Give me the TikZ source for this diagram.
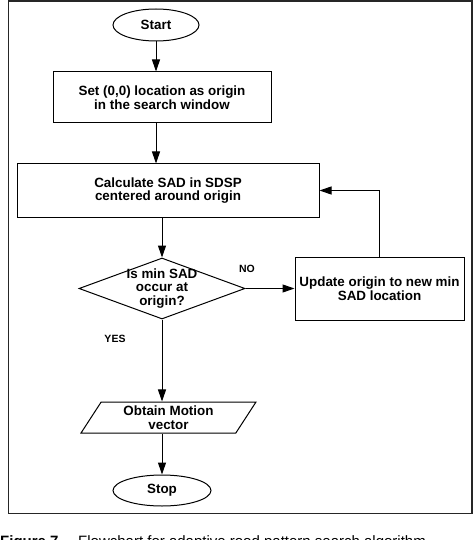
\documentclass[tikz,border=0pt]{standalone}
\usepackage{fontspec}
\setmainfont{Liberation Sans}
\usetikzlibrary{shapes.geometric,arrows.meta}

\begin{document}
\begin{tikzpicture}[x=1pt,y=-1pt,
    font=\bfseries\fontsize{13.4}{13.5}\selectfont,
    every node/.style={align=center, inner sep=0pt},
    box/.style={draw, line width=1pt, rectangle},
    terminal/.style={draw, line width=1pt, ellipse},
    decision/.style={draw, line width=1pt, diamond},
    io/.style={draw, line width=1pt, trapezium, trapezium left angle=60,
        trapezium right angle=120, trapezium stretches=true},
    arrow/.style={line width=1pt, -{Triangle[length=12pt,width=8pt]}},
    branch/.style={font=\bfseries\fontsize{10.5}{12}\selectfont}]
                    \useasboundingbox (0,0) rectangle (474,540);
                    \clip (0,0) rectangle (474,540);
                    \draw[line width=1.6pt, black!85] (8.5,1.2) rectangle (472,513.5);
                    \node[terminal, minimum width=86pt, minimum height=32pt] (start) at (156,25) {Start};
                    \node[box, minimum width=218pt, minimum height=51pt] (set) at (162,97.5) {Set (0,0) location as origin\\in the search window};
                    \node[box, minimum width=302pt, minimum height=53pt] (calc) at (168,190.5) {Calculate SAD in SDSP\\centered around origin};
                    \node[decision, minimum width=166pt, minimum height=61pt,
                        label={[align=center]center:{Is min SAD\\occur at\\origin?}}] (check) at (162,288.5) {};
                    \node[box, minimum width=169pt, minimum height=63pt] (update) at (379.5,288.5) {Update origin to new min\\SAD location};
                    \node[io, minimum width=175pt, minimum height=31pt] (motion) at (168.5,417.5) {Obtain Motion\\vector};
                    \node[terminal, minimum width=98pt, minimum height=31pt] (stop) at (162,490.5) {Stop};
                    \node[branch] (no) at (247,269) {NO};
                    \node[branch] (yes) at (115,339) {YES};
                    \draw[arrow] (start.south) -- (start.south |- set.north);
                    \draw[arrow] (start.south |- set.south) -- (start.south |- calc.north);
                    \draw[arrow] (check.north |- calc.south) -- (check.north);
                    \draw[arrow] (check.east) -- (update.west);
                    \draw[arrow] (update.north) |- (calc.east);
                    \draw[arrow] (check.south) -- (check.south |- motion.north);
                    \draw[arrow] (stop.north |- motion.south) -- (stop.north);
                    \node[anchor=base west, font=\fontsize{15}{18}\selectfont] (caption) at (0,546) {\makebox[78pt][l]{\bfseries Figure 7}Flowchart for adaptive rood pattern search algorithm};
                \end{tikzpicture}
\end{document}
